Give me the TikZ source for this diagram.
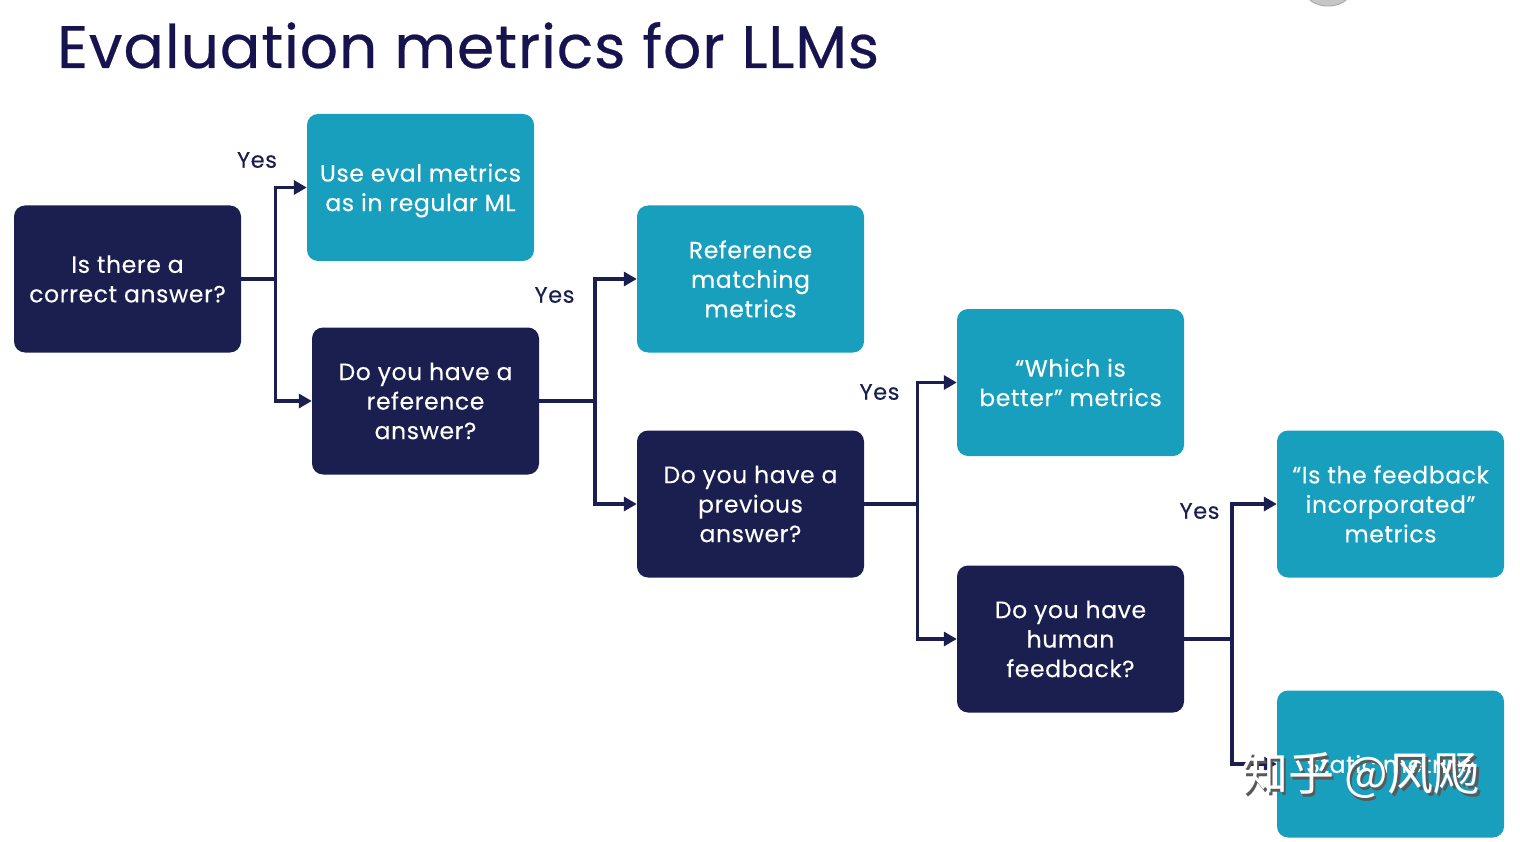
\documentclass[tikz,border=0pt]{standalone}
\usepackage{fontspec}
\setmainfont{Poppins}[FakeBold=0.25,LetterSpace=2.6]
\newfontfamily\titlefont{Poppins}[FakeBold=0.4,LetterSpace=1.5]
\newfontfamily\cjk{Noto Sans CJK SC}
\usetikzlibrary{arrows.meta}
\definecolor{navy}{HTML}{1B1F4F}
\definecolor{teal}{HTML}{189FBD}
\definecolor{titlecol}{HTML}{17134F}
\tikzset{
  base/.style={rounded corners=11pt,minimum width=227pt,minimum height=147pt,inner sep=0pt,align=center,text=white,font=\fontsize{23.5}{29.5}\selectfont},
  qbox/.style={base,fill=navy},
  mbox/.style={base,fill=teal},
  conn/.style={draw=navy,line width=3.4pt,-{Triangle[length=13pt,width=14pt]}},
  yes/.style={text=navy,font=\fontsize{22.5}{28}\selectfont,inner sep=0pt},
}
\begin{document}
\begin{tikzpicture}[x=1pt,y=-1pt]
\useasboundingbox (0,0) rectangle (1520,842);
\fill[white] (0,0) rectangle (1520,842);
\begin{scope}
\clip (0,0) rectangle (1520,842);
\fill[gray!45,draw=gray!65,line width=1pt] (1328,-8) ellipse (22pt and 14pt);
\end{scope}
\node[anchor=base west,text=titlecol,font=\titlefont\fontsize{60}{70}\selectfont,inner sep=0pt] (title) at (57,68) {Evaluation metrics for LLMs};
\node[qbox] (q1) at (127.5,279) {Is there a\\correct answer?};
\node[mbox] (m1) at (420.5,187.5) {\rule{0pt}{24pt}Use eval metrics\\as in regular ML};
\node[qbox] (q2) at (425.5,401) {Do you have a\\reference\\answer?};
\node[mbox] (m2) at (750.5,279) {Reference\\matching\\metrics};
\node[qbox] (q3) at (750.5,504) {Do you have a\\previous\\answer?};
\node[mbox] (m3) at (1070.5,382.5) {“Which is\\better” metrics};
\node[qbox] (q4) at (1070.5,639) {Do you have\\human\\feedback?};
\node[mbox] (m4) at (1390.5,504) {“Is the feedback\\incorporated”\\metrics};
\node[mbox] (m5) at (1390.5,764) {Static metrics};
\coordinate (j1) at (275.5,279);
\coordinate (j2) at (595,401);
\coordinate (j3) at (917.5,504);
\coordinate (j4) at (1232,639);
\draw[conn] (q1.east) -- (j1) |- (m1.west);
\draw[conn] (j1) |- (q2.west);
\draw[conn] (q2.east) -- (j2) |- (m2.west);
\draw[conn] (j2) |- (q3.west);
\draw[conn] (q3.east) -- (j3) |- (m3.west);
\draw[conn] (j3) |- (q4.west);
\draw[conn] (q4.east) -- (j4) |- (m4.west);
\draw[conn] (j4) |- (m5.west);
\node[yes] (y1) at (257,160) {Yes};
\node[yes] (y2) at (554.5,295) {Yes};
\node[yes] (y3) at (879.5,392) {Yes};
\node[yes] (y4) at (1199.5,511) {Yes};
\node[text=gray!70!black,font=\cjk\fontsize{46}{50}\selectfont,inner sep=0pt] (wms) at (1363.5,778) {知乎 @风飏};
\node[text=white,font=\cjk\fontsize{46}{50}\selectfont,inner sep=0pt] (wm) at (1361,775) {知乎 @风飏};
\end{tikzpicture}
\end{document}
